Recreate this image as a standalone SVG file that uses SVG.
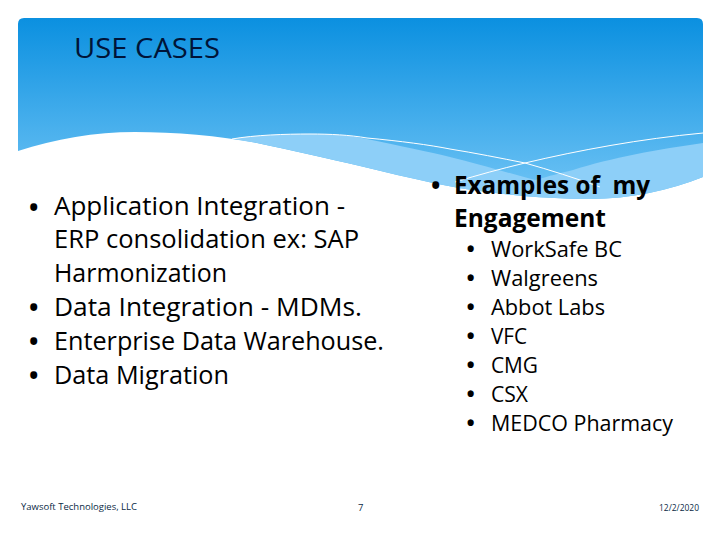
<svg xmlns="http://www.w3.org/2000/svg" width="720" height="540" viewBox="0 0 720 540">
<style>
text{font-family:"Open Sans","Noto Sans","Liberation Sans",sans-serif;fill:#000}
.l{font-size:25px}
.lb{font-size:25px;font-weight:700}
.b{font-size:25px;font-weight:700}
.s{font-size:22px}
.sb{font-size:22px;font-weight:700}
.f{font-size:9.5px;fill:#0a2a45}
.t{font-size:28px;fill:#001438}
</style>
<defs>
<linearGradient id="g" x1="0" y1="18" x2="0" y2="180" gradientUnits="userSpaceOnUse">
<stop offset="0" stop-color="#0b90e0"/><stop offset="1" stop-color="#66bff3"/>
</linearGradient>
</defs>
<rect width="720" height="540" fill="#fff"/>
<g id="banner">
<path id="wave" d="M18 151V24Q18 18 24 18H697Q703 18 703 24V177C670 190 630 199 590 199C540 199 480 193 433 183C410 178 385 172 360 166C330 159 290 150 257 143C220 136 175 132 135 132C95 132 55 139 18 151Z" fill="url(#g)"/>
<path d="M232 139C255 135 285 134 310 134C330 134 350 135 367 139C400 146 430 152 450 157C475 163 505 172 535 180C550 176 560 173 573 170C610 158 660 149 703 143V177C670 190 630 199 590 199C540 199 480 193 433 183C410 178 385 172 360 166C330 159 290 150 257 143Z" fill="#8dcff8"/>
<path d="M232 139C255 135 285 134 310 134C330 134 350 135 367 138C400 141 430 145 450 149C475 153 500 158 525 163C550 170 575 178 600 187M703 133C640 139 580 150 525 163C500 169 478 175 455 182" fill="none" stroke="#fff" stroke-width="1"/>
</g>
<g id="title"><text class="t" x="74" y="58" textLength="146" lengthAdjust="spacingAndGlyphs">USE CASES</text></g>
<g id="left-list">
<text class="lb" x="29" y="216">•</text><text class="l" x="54" y="215" textLength="291" lengthAdjust="spacingAndGlyphs">Application Integration  -</text>
<text class="l" x="54" y="248" textLength="305" lengthAdjust="spacingAndGlyphs">ERP consolidation ex: SAP</text>
<text class="l" x="54" y="282" textLength="173" lengthAdjust="spacingAndGlyphs">Harmonization</text>
<text class="lb" x="29" y="316">•</text><text class="l" x="54" y="316" textLength="308" lengthAdjust="spacingAndGlyphs">Data  Integration  - MDMs.</text>
<text class="lb" x="29" y="350">•</text><text class="l" x="54" y="350" textLength="330" lengthAdjust="spacingAndGlyphs">Enterprise Data Warehouse.</text>
<text class="lb" x="29" y="384">•</text><text class="l" x="54" y="384" textLength="175" lengthAdjust="spacingAndGlyphs">Data Migration</text>
</g>
<g id="right-list">
<text class="b" x="431" y="194">•</text><text class="b" x="454" y="194" textLength="196" lengthAdjust="spacingAndGlyphs" xml:space="preserve">Examples of  my</text>
<text class="b" x="454" y="227" textLength="152" lengthAdjust="spacingAndGlyphs">Engagement</text>
<text class="sb" x="466.5" y="257">•</text><text class="s" x="491" y="257" textLength="131" lengthAdjust="spacingAndGlyphs">WorkSafe BC</text>
<text class="sb" x="466.5" y="286">•</text><text class="s" x="491" y="286" textLength="107" lengthAdjust="spacingAndGlyphs">Walgreens</text>
<text class="sb" x="466.5" y="315">•</text><text class="s" x="491" y="315" textLength="114" lengthAdjust="spacingAndGlyphs">Abbot Labs</text>
<text class="sb" x="466.5" y="344">•</text><text class="s" x="491" y="344" textLength="36" lengthAdjust="spacingAndGlyphs">VFC</text>
<text class="sb" x="466.5" y="373">•</text><text class="s" x="491" y="373" textLength="47" lengthAdjust="spacingAndGlyphs">CMG</text>
<text class="sb" x="466.5" y="402">•</text><text class="s" x="491" y="402" textLength="37" lengthAdjust="spacingAndGlyphs">CSX</text>
<text class="sb" x="466.5" y="431">•</text><text class="s" x="491" y="431" textLength="182" lengthAdjust="spacingAndGlyphs">MEDCO Pharmacy</text>
</g>
<g id="footer">
<text class="f" x="21" y="510" textLength="116" lengthAdjust="spacingAndGlyphs">Yawsoft Technologies, LLC</text>
<text class="f" x="358" y="511">7</text>
<text class="f" x="659" y="511" textLength="40" lengthAdjust="spacingAndGlyphs">12/2/2020</text>
</g>
</svg>
